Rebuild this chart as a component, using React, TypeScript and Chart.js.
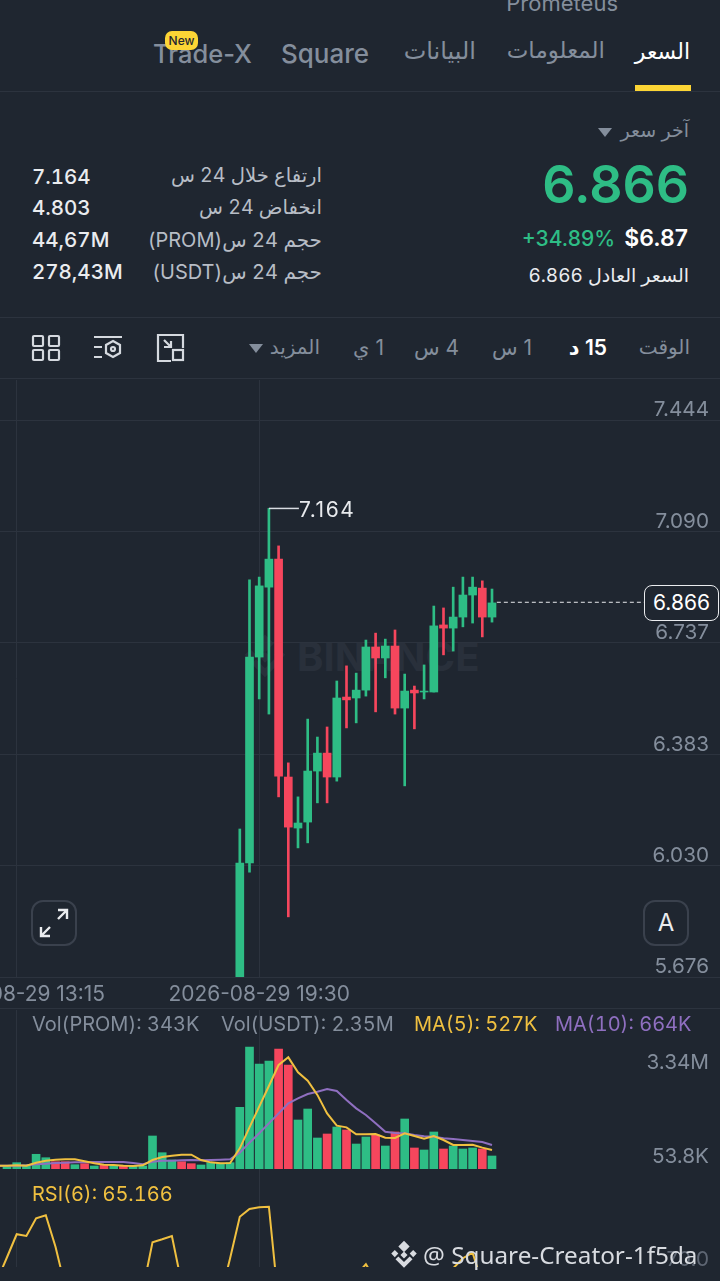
import React, { useEffect, useRef } from "react";
import { Chart, registerables } from "chart.js";

Chart.register(...registerables);

// ---------- data ----------
const timeLabels = ["2026-08-29 13:15", "2026-08-29 19:30"];
const timeTickIndexes = [1, 26];
const priceTicks = [7.444, 7.09, 6.737, 6.383, 6.03, 5.676];
const lastPrice = 6.866;
const highPrice = 7.164;
const firstCandleIndex = 24;
const opens = [5.65, 6.038, 6.692, 6.914, 7.003, 6.311, 6.149, 6.168, 6.33, 6.387, 6.311, 6.565, 6.562, 6.587, 6.724, 6.689, 6.727, 6.53, 6.587, 6.581, 6.581, 6.794, 6.784, 6.819, 6.889, 6.911, 6.819];
const closes = [6.038, 6.692, 6.918, 7.003, 6.314, 6.152, 6.165, 6.33, 6.387, 6.311, 6.562, 6.556, 6.587, 6.724, 6.689, 6.727, 6.53, 6.584, 6.578, 6.584, 6.791, 6.784, 6.819, 6.889, 6.914, 6.819, 6.864];
const highs = [6.146, 6.937, 6.946, 7.164, 7.045, 6.356, 6.248, 6.495, 6.438, 6.47, 6.616, 6.664, 6.641, 6.746, 6.768, 6.749, 6.778, 6.638, 6.6, 6.667, 6.854, 6.848, 6.914, 6.946, 6.946, 6.934, 6.908];
const lows = [5.65, 6.009, 6.559, 6.511, 6.248, 5.867, 6.086, 6.102, 6.229, 6.229, 6.298, 6.467, 6.483, 6.568, 6.518, 6.626, 6.511, 6.283, 6.464, 6.559, 6.581, 6.699, 6.711, 6.788, 6.8, 6.756, 6.803];

const volumeTicks = [3340, 53.8];
const volumeTickLabels = ["3.34M", "53.8K"];
const volumes = [116, 224, 162, 450, 358, 250, 250, 170, 197, 135, 180, 154, 135, 143, 135, 943, 493, 296, 250, 197, 162, 224, 207, 224, 1716, 3340, 2883, 2963, 3287, 2856, 1374, 1670, 889, 997, 1185, 1104, 727, 916, 970, 673, 1051, 1401, 620, 566, 1051, 593, 673, 593, 620, 593, 404];
const volumeUp = [1, 1, 1, 1, 1, 0, 0, 1, 0, 1, 0, 1, 0, 1, 1, 1, 1, 1, 0, 0, 1, 1, 1, 1, 1, 1, 1, 1, 0, 0, 1, 1, 1, 0, 1, 0, 1, 1, 0, 1, 0, 1, 0, 1, 1, 0, 1, 1, 1, 0, 1];
// moving averages and RSI start one bar left of the first volume bar
const firstLineIndex = -1;
const ma5 = [144, 144, 153, 144, 224, 278, 305, 314, 314, 260, 206, 171, 162, 144, 135, 153, 296, 377, 413, 440, 440, 296, 233, 206, 215, 611, 1176, 1733, 2290, 2856, 3062, 2658, 2433, 2050, 1553, 1221, 1176, 988, 988, 997, 898, 889, 1015, 943, 871, 943, 835, 700, 700, 709, 629, 566];
const ma10 = [144, 144, 144, 153, 180, 197, 215, 224, 233, 233, 242, 242, 242, 242, 215, 180, 251, 278, 278, 287, 296, 287, 296, 305, 314, 494, 763, 1015, 1284, 1553, 1823, 1957, 2074, 2137, 2209, 2155, 1913, 1688, 1509, 1284, 1059, 1024, 1015, 970, 934, 925, 880, 862, 835, 808, 781, 700];
const rsi = [62, 71.1, 80.3, 79.6, 86.7, 87.9, 75.3, 59.3, 52, 50, 47, 45, 48, 50, 53, 58, 77.1, 78.3, 79.6, 60.7, 50, 48, 52, 55, 70.7, 87.3, 90.4, 91.1, 91.3, 52.7, 45, 48, 52, 55, 58, 55, 60, 64, 68.3, 62, 58, 60, 62, 58, 60, 63, 62, 66.7, 70.7, 72.9, 60.7, 65.166];
const rsiTicks = [70];

// ---------- style ----------
const BG = "#1f2630";
const GRID = "#2c333e";
const GREEN = "#2ebd85";
const RED = "#f6465d";
const AXIS = "#848e9c";
const YELLOW = "#f0c040";
const PURPLE = "#8f6fc0";
const FONT = "Inter, 'DejaVu Sans', sans-serif";

const PX_PER_BAR = 9.7;
const FIRST_BAR_PX = 7;
const xMin = -FIRST_BAR_PX / PX_PER_BAR;
const xMax = (720 - FIRST_BAR_PX) / PX_PER_BAR;
const dashEnd = (644 - FIRST_BAR_PX) / PX_PER_BAR;

const noPad = (s: any) => {
  s.paddingLeft = 0;
  s.paddingRight = 0;
  s.paddingTop = 0;
  s.paddingBottom = 0;
};

function xScale(showLabels: boolean) {
  return {
    type: "linear",
    min: xMin,
    max: xMax,
    offset: false,
    border: { display: false },
    grid: { color: GRID, lineWidth: 1, drawTicks: false, offset: false },
    afterBuildTicks: (s: any) => {
      s.ticks = timeTickIndexes.map((value) => ({ value }));
    },
    afterFit: (s: any) => {
      noPad(s);
      s.height = showLabels ? 31 : 0;
    },
    ticks: {
      display: showLabels,
      autoSkip: false,
      maxRotation: 0,
      minRotation: 0,
      color: AXIS,
      padding: 5,
      font: { family: FONT, size: 20.9 },
      callback: (_v: any, i: number) => timeLabels[i],
    },
  };
}

function yScale(min: number, max: number, ticks: number[], labels: (string | undefined)[], labelOffset: number, grid: boolean, color = AXIS) {
  return {
    type: "linear",
    position: "right",
    min,
    max,
    border: { display: false },
    grid: { display: grid, color: GRID, lineWidth: 1, drawTicks: false },
    afterBuildTicks: (s: any) => {
      s.ticks = ticks.map((value) => ({ value }));
    },
    afterFit: (s: any) => {
      noPad(s);
      s.width = 0;
    },
    ticks: {
      mirror: true,
      padding: -11,
      labelOffset,
      color,
      autoSkip: false,
      font: { family: FONT, size: 20.7 },
      callback: (_v: any, i: number) => labels[i],
    },
  };
}

const baseOptions = {
  animation: false,
  responsive: false,
  maintainAspectRatio: false,
  layout: { padding: 0 },
  events: [],
  plugins: { legend: { display: false }, tooltip: { enabled: false } },
};

const PPU = 314.9;
const priceMin = 5.676;
const priceMax = priceMin + 597 / PPU;

const highLabelPlugin = {
  id: "highLabel",
  afterDatasetsDraw(chart: any) {
    const { ctx, scales } = chart;
    const i = highs.indexOf(highPrice) + firstCandleIndex;
    const x = scales.x.getPixelForValue(i);
    const y = scales.y.getPixelForValue(highPrice);
    ctx.save();
    ctx.strokeStyle = "#d8dce2";
    ctx.lineWidth = 1.5;
    ctx.beginPath();
    ctx.moveTo(x, y);
    ctx.lineTo(x + 30, y);
    ctx.stroke();
    ctx.fillStyle = "#e8eaed";
    ctx.font = `21px ${FONT}`;
    ctx.letterSpacing = "1.6px";
    ctx.textBaseline = "middle";
    ctx.fillText(String(highPrice), x + 30, y + 2);
    ctx.restore();
  },
};

function CanvasChart({ top, height, make }: { top: number; height: number; make: (c: HTMLCanvasElement) => Chart }) {
  const ref = useRef<HTMLCanvasElement>(null);
  useEffect(() => {
    const chart = make(ref.current!);
    return () => chart.destroy();
  }, []);
  return <canvas ref={ref} width={720} height={height} style={{ position: "absolute", left: 0, top, width: 720, height, display: "block" }} />;
}

function makePrice(c: HTMLCanvasElement) {
  const idx = opens.map((_, i) => i + firstCandleIndex);
  const colors = opens.map((o, i) => (closes[i] >= o ? GREEN : RED));
  return new Chart(c, {
    type: "bar",
    data: {
      datasets: [
        {
          data: idx.map((x, i) => ({ x, y: [lows[i], highs[i]] })),
          backgroundColor: colors,
          barThickness: 2,
          grouped: false,
        },
        {
          data: idx.map((x, i) => ({ x, y: [opens[i], closes[i]] })),
          backgroundColor: colors,
          barThickness: 8,
          grouped: false,
        },
        {
          type: "line",
          data: [
            { x: idx[idx.length - 1] + 0.5, y: lastPrice },
            { x: dashEnd, y: lastPrice },
          ],
          borderColor: "#e8eaed",
          borderWidth: 1,
          borderDash: [4, 3],
          pointRadius: 0,
        },
      ],
    },
    options: {
      ...baseOptions,
      scales: {
        x: xScale(true),
        y: yScale(priceMin, priceMax, priceTicks, priceTicks.map((v) => v.toFixed(3)), -10, true),
      },
    } as any,
    plugins: [highLabelPlugin],
  } as any);
}

function makeVolume(c: HTMLCanvasElement) {
  const volMin = 53.8;
  const volMax = volMin + 159 * 26.94;
  return new Chart(c, {
    type: "bar",
    data: {
      datasets: [
        {
          type: "line",
          data: ma5.map((y, i) => ({ x: i + firstLineIndex, y })),
          borderColor: YELLOW,
          borderWidth: 2,
          pointRadius: 0,
          order: 0,
        },
        {
          type: "line",
          data: ma10.map((y, i) => ({ x: i + firstLineIndex, y })),
          borderColor: PURPLE,
          borderWidth: 2,
          pointRadius: 0,
          order: 1,
        },
        {
          data: volumes.map((y, x) => ({ x, y })),
          backgroundColor: volumeUp.map((u) => (u ? GREEN : RED)),
          barThickness: 8,
          grouped: false,
          order: 2,
        },
      ],
    },
    options: {
      ...baseOptions,
      scales: {
        x: xScale(false),
        y: yScale(volMin, volMax, [volumeTicks[0]], [volumeTickLabels[0]], 16, false),
        y2: yScale(volMin, volMax, [volumeTicks[1]], [volumeTickLabels[1]], -12, true),
      },
    } as any,
  } as any);
}

function makeRsi(c: HTMLCanvasElement) {
  return new Chart(c, {
    type: "line",
    data: {
      datasets: [
        {
          data: rsi.map((y, i) => ({ x: i + firstLineIndex, y })),
          borderColor: YELLOW,
          borderWidth: 2,
          pointRadius: 0,
        },
      ],
    },
    options: {
      ...baseOptions,
      scales: {
        x: xScale(false),
        y: yScale(67.2, 106.4, rsiTicks, rsiTicks.map((v) => v.toFixed(1)), 0, false, "#5e6673"),
      },
    } as any,
  } as any);
}

type TP = { l?: number; r?: number; y: number; s?: number; c?: string; w?: number; rtl?: boolean; tn?: boolean; f?: string; children: React.ReactNode };
function T({ l, r, y, s = 20, c = "#fff", w = 400, rtl, tn, f, children }: TP) {
  return (
    <div
      dir={rtl ? "rtl" : "ltr"}
      style={{
        position: "absolute",
        left: l,
        right: r !== undefined ? 720 - r : undefined,
        top: y,
        transform: "translateY(-50%)",
        fontSize: s,
        color: c,
        fontWeight: w,
        fontFamily: f,
        fontVariantNumeric: tn ? "tabular-nums" : "normal",
        whiteSpace: "nowrap",
        lineHeight: 1.2,
      }}
    >
      {children}
    </div>
  );
}

function Rule({ y }: { y: number }) {
  return <div style={{ position: "absolute", left: 0, width: 720, top: y, height: 1, background: GRID }} />;
}

function Tri({ x, y, c = "#848e9c" }: { x: number; y: number; c?: string }) {
  return <div style={{ position: "absolute", left: x, top: y, width: 0, height: 0, borderLeft: "7px solid transparent", borderRight: "7px solid transparent", borderTop: `9px solid ${c}` }} />;
}

function Logo({ x, y, size, color }: { x: number; y: number; size: number; color: string }) {
  return (
    <svg style={{ position: "absolute", left: x, top: y }} width={size} height={size} viewBox="0 0 24 24" fill="none">
      <path fill={color} d="M12 2l4 4-4 4-4-4zM5.5 8.5l2.5 2.5-2.5 2.5L3 11zM18.5 8.5l2.5 2.5-2.5 2.5-2.5-2.5zM12 9.5l2.5 2.5-2.5 2.5L9.5 12zM8 13l4 4 4-4 2 2-6 6-6-6z" />
    </svg>
  );
}

const ic = "#d5d9df";
const BTN = "#3a414d";

export default function App() {
  return (
    <div style={{ position: "fixed", left: 0, top: 0, width: 720, height: 1281, overflow: "hidden", background: BG, fontFamily: FONT }}>
      {/* tabs */}
      <T r={618} y={3} s={22} c="#848e9c">Prometeus</T>
      <T r={690} y={51} s={22} c="#ffffff" rtl>السعر</T>
      <T r={605} y={51} s={23} c="#848e9c" rtl>المعلومات</T>
      <T r={476} y={51} s={24} c="#848e9c" rtl>البيانات</T>
      <T l={281} y={54} s={26} c="#848e9c" w={500}>Square</T>
      <T l={153} y={54} s={25.5} c="#848e9c" w={500}>Trade-X</T>
      <div style={{ position: "absolute", left: 165, top: 31, width: 33, height: 19, borderRadius: 7, background: "#fcd535", color: "#1f2630", fontSize: 12, fontWeight: 500, textAlign: "center", lineHeight: "19px" }}>New</div>
      <div style={{ position: "absolute", left: 635, top: 85, width: 56, height: 6, background: "#fcd535" }} />
      <Rule y={91} />

      {/* price block */}
      <T r={689} y={131} s={19} c="#848e9c" rtl>آخر سعر</T>
      <Tri x={598} y={128} />
      <T r={689} y={185} s={52} c={GREEN} w={600}>6.866</T>
      <T r={688} y={239} s={23} c="#ffffff" w={600}>$6.87</T>
      <T r={615} y={239} s={21} c={GREEN} w={500}>+34.89%</T>
      <T r={689} y={276} s={19} c="#eaecef" rtl tn>السعر العادل 6.866</T>

      <T r={322} y={176} s={19.6} c="#b7bdc6" rtl tn>ارتفاع خلال 24 س</T>
      <T r={322} y={208} s={19.6} c="#b7bdc6" rtl tn>انخفاض 24 س</T>
      <T r={322} y={240} s={20} c="#b7bdc6" rtl tn>حجم 24 س(PROM)</T>
      <T r={322} y={272} s={20} c="#b7bdc6" rtl tn>حجم 24 س(USDT)</T>
      <T l={32} y={177} s={20.5} c="#eaecef" w={500} tn>7.164</T>
      <T l={32} y={208} s={20.5} c="#eaecef" w={500} tn>4.803</T>
      <T l={32} y={240} s={20.5} c="#eaecef" w={500} tn>44,67M</T>
      <T l={32} y={272} s={20.5} c="#eaecef" w={500} tn>278,43M</T>
      <Rule y={317} />

      {/* interval row */}
      <T r={690} y={347} s={20} c="#848e9c" rtl>الوقت</T>
      <T r={607} y={348} s={21} c="#ffffff" w={600} rtl>15 د</T>
      <T r={532} y={348} s={21} c="#848e9c" rtl>1 س</T>
      <T r={459} y={348} s={21} c="#848e9c" rtl>4 س</T>
      <T r={384} y={348} s={21} c="#848e9c" rtl>1 ي</T>
      <T r={320} y={347} s={20} c="#848e9c" rtl>المزيد</T>
      <Tri x={249} y={344} />
      <svg style={{ position: "absolute", left: 30, top: 333 }} width={32} height={30} viewBox="0 0 32 30" fill="none" stroke={ic} strokeWidth={2.2}>
        <rect x="3" y="3" width="10" height="10" rx="1" /><rect x="19" y="3" width="10" height="10" rx="1" />
        <rect x="3" y="17" width="10" height="10" rx="1" /><rect x="19" y="17" width="10" height="10" rx="1" />
      </svg>
      <svg style={{ position: "absolute", left: 92, top: 333 }} width={32} height={30} viewBox="0 0 32 30" fill="none" stroke={ic} strokeWidth={2.2}>
        <path d="M2 4h28M2 14h8M2 24h8" />
        <path d="M21 8l7 4v8l-7 4-7-4v-8z" /><circle cx="21" cy="16" r="2" />
      </svg>
      <svg style={{ position: "absolute", left: 155, top: 333 }} width={32} height={30} viewBox="0 0 32 30" fill="none" stroke={ic} strokeWidth={2.2}>
        <path d="M16 28H3V2h25v13" />
        <rect x="18" y="17" width="10" height="10" />
        <path d="M9 7l7 7M9 14h7V8" />
      </svg>
      <Rule y={378} />

      {/* watermark behind the chart */}
      <Logo x={238} y={630} size={54} color="#29303b" />
      <T l={297} y={657} s={40} c="#29303b" w={700}>BINANCE</T>

      <CanvasChart top={380} height={628} make={makePrice} />
      <Rule y={1008} />
      <CanvasChart top={1010} height={159} make={makeVolume} />
      <CanvasChart top={1169} height={98} make={makeRsi} />

      {/* last price tag */}
      <div style={{ position: "absolute", left: 644, top: 585, width: 75, height: 36, boxSizing: "border-box", border: "1.5px solid #eaecef", borderRadius: 8, background: BG, color: "#fff", fontSize: 21, lineHeight: "34px", textAlign: "center" }}>
        {lastPrice.toFixed(3)}
      </div>

      {/* buttons */}
      <div style={{ position: "absolute", left: 31, top: 900, width: 46, height: 46, boxSizing: "border-box", border: `2px solid ${BTN}`, borderRadius: 12, background: BG }}>
        <svg width={42} height={42} viewBox="0 0 42 42" fill="none" stroke="#eaecef" strokeWidth={2.4} style={{ display: "block" }}>
          <path d="M25 17l8-8M25 8h9v9M17 25l-8 8M8 25v9h9" />
        </svg>
      </div>
      <div style={{ position: "absolute", left: 643, top: 900, width: 46, height: 46, boxSizing: "border-box", border: `2px solid ${BTN}`, borderRadius: 12, background: BG, color: "#eaecef", fontSize: 24, textAlign: "center", lineHeight: "42px" }}>A</div>

      {/* indicator legends */}
      <T l={32} y={1024} s={20} c={AXIS} tn>Vol(PROM): 343K</T>
      <T l={221} y={1024} s={20} c={AXIS} tn>Vol(USDT): 2.35M</T>
      <T l={414} y={1024} s={20} c={YELLOW} tn>MA(5): 527K</T>
      <T l={555} y={1024} s={20} c={PURPLE} tn>MA(10): 664K</T>
      <T l={32} y={1194} s={20} c={YELLOW} tn>RSI(6): 65.166</T>

      {/* image watermark */}
      <Logo x={387} y={1238} size={34} color="#d8dbe0" />
      <T l={423} y={1255} s={24.3} c="#d8dbe0" f="'Noto Sans', sans-serif">@ Square-Creator-1f5da</T>
    </div>
  );
}
